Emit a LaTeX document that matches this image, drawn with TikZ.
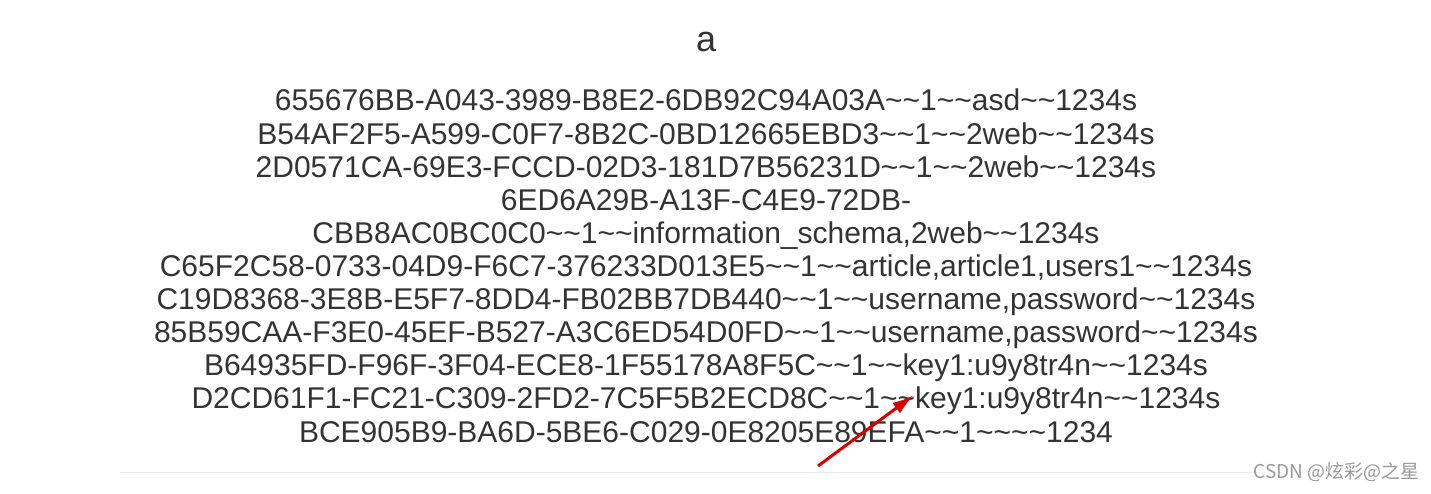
\documentclass[tikz,border=0pt]{standalone}
\usepackage{fontspec}
\usetikzlibrary{arrows.meta}
\setmainfont{Liberation Sans}
\newfontfamily\cjk{Noto Sans CJK SC}
\def\T{\textasciitilde}
\begin{document}
\begin{tikzpicture}[x=1pt,y=-1pt,
  ln/.style={anchor=base,inner sep=0pt,text=black!80,font=\fontsize{30}{30}\selectfont}]
\useasboundingbox (0,0) rectangle (1431,494);
\node[ln,font=\fontsize{36}{36}\selectfont] (t) at (706,52) {a};
\foreach \i/\s in {0/{655676BB-A043-3989-B8E2-6DB92C94A03A\T\T1\T\T asd\T\T1234s},
 1/{B54AF2F5-A599-C0F7-8B2C-0BD12665EBD3\T\T1\T\T2web\T\T1234s},
 2/{2D0571CA-69E3-FCCD-02D3-181D7B56231D\T\T1\T\T2web\T\T1234s},
 3/{6ED6A29B-A13F-C4E9-72DB-},
 4/{CBB8AC0BC0C0\T\T1\T\T information\_schema,2web\T\T1234s},
 5/{C65F2C58-0733-04D9-F6C7-376233D013E5\T\T1\T\T article,article1,users1\T\T1234s},
 6/{C19D8368-3E8B-E5F7-8DD4-FB02BB7DB440\T\T1\T\T username,password\T\T1234s},
 7/{85B59CAA-F3E0-45EF-B527-A3C6ED54D0FD\T\T1\T\T username,password\T\T1234s},
 8/{B64935FD-F96F-3F04-ECE8-1F55178A8F5C\T\T1\T\T key1:u9y8tr4n\T\T1234s},
 9/{D2CD61F1-FC21-C309-2FD2-7C5F5B2ECD8C\T\T1\T\T key1:u9y8tr4n\T\T1234s},
 10/{BCE905B9-BA6D-5BE6-C029-0E8205E89EFA\T\T1\T\T\T\T1234}}
 {\node[ln] (l\i) at (706,111+33.1*\i) {\s};}
\coordinate (la) at (120,472);
\coordinate (lb) at (1260,472);
\draw[black!8,line width=1pt] (la) -- (lb);
\node[anchor=east,inner sep=0pt,text=black!40,font=\cjk\fontsize{19}{19}\selectfont] (wm) at (1420,472) {CSDN @炫彩@之星};
\coordinate (as) at (818,466);
\coordinate (ae) at (914,395);
\draw[red!85!black,line width=3pt,-{Latex[length=22pt,width=13pt]}] (as) -- (ae);
\end{tikzpicture}
\end{document}
